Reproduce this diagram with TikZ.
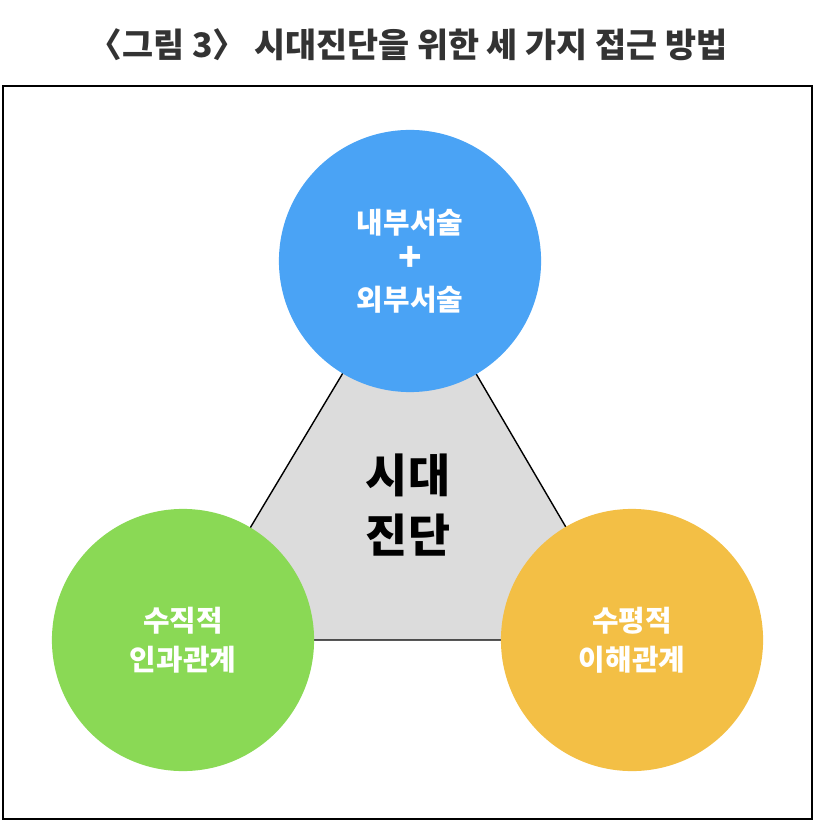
\documentclass[tikz,border=0pt]{standalone}
\usepackage{fontspec}
\setmainfont{Noto Sans CJK KR}
\definecolor{titlegray}{HTML}{333333}
\definecolor{tribg}{HTML}{DCDCDC}
\definecolor{cblue}{HTML}{4AA3F5}
\definecolor{cgreen}{HTML}{8AD955}
\definecolor{corange}{HTML}{F3BF45}
\begin{document}
\begin{tikzpicture}[x=0.01cm,y=-0.01cm]
        \tikzstyle{circ}= [circle,minimum size=2.62cm,inner sep=0pt,text=white,font=\fontsize{8.2}{11}\selectfont\bfseries,align=center];
          \useasboundingbox (0,0) rectangle (816,822);
          \node(title)[font=\fontsize{9.6}{12}\selectfont\bfseries,text=titlegray] at (408,45) {〈그림 3〉 시대진단을 위한 세 가지 접근 방법};
          \draw[thin] (3,86) rectangle (812,819);

          \coordinate(top) at (410,261);
          \coordinate(left) at (183,640);
          \coordinate(right) at (632,640);
          \draw[fill=tribg,thin] (top) -- (left) -- (right) -- cycle;

          \node(center)[align=center,font=\fontsize{13}{17}\selectfont\bfseries] at (408,505) {시대\\진단};

          \node(outer)[circ,fill=cblue] at (top) {내부서술\\{\fontsize{11}{11}\selectfont +}\\외부서술};
          \node(vertical)[circ,fill=cgreen] at (left) {수직적\\인과관계};
          \node(horizontal)[circ,fill=corange] at (right) {수평적\\이해관계};
      \end{tikzpicture}
\end{document}
